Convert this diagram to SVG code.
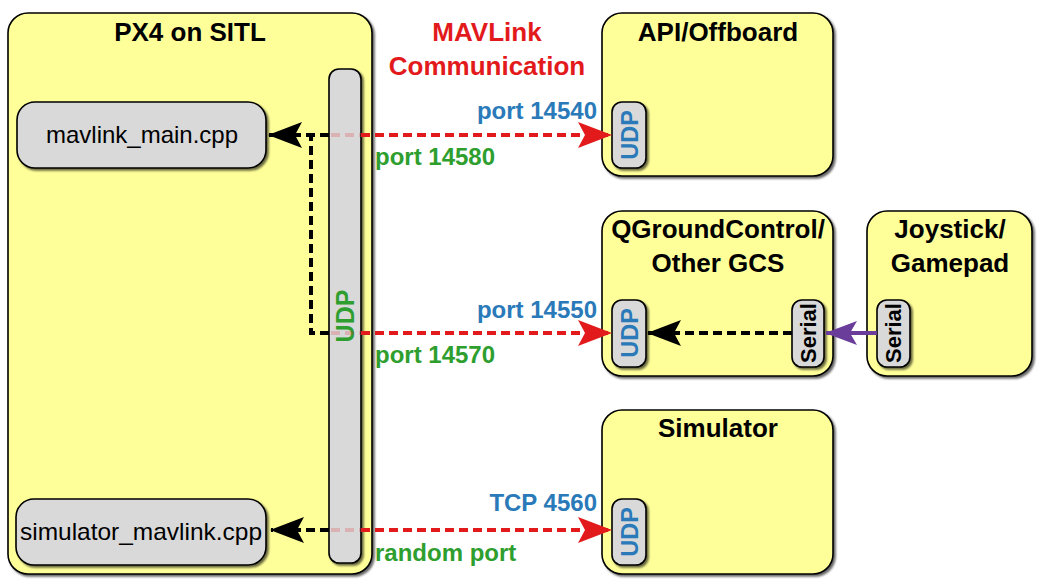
<svg xmlns="http://www.w3.org/2000/svg" width="1049" height="582" viewBox="0 0 1049 582">
<defs>
<style>
.box{fill:#ffff99;stroke:#000;stroke-width:1.6;filter:url(#sh)}
.gray{fill:#d9d9d9;stroke:#000;stroke-width:1.6;filter:url(#sh)}
.t{font-family:"Liberation Sans",Arial,sans-serif;font-weight:bold;text-anchor:middle}
.title{font-size:26px;fill:#000}
.red{fill:#e31a1c}
.lbl{font-family:"Liberation Sans",Arial,sans-serif;font-weight:bold;font-size:24px}
.blue{fill:#2a7ab9}
.green{fill:#2e9e2e}
.norm{font-family:"Liberation Sans",Arial,sans-serif;font-size:24px;text-anchor:middle;fill:#000}
.rd{fill:none;stroke:#e31a1c;stroke-width:4;stroke-dasharray:9 5}
.bk{fill:none;stroke:#000;stroke-width:4;stroke-dasharray:9 5}
</style>
<filter id="sh" x="-10%" y="-10%" width="130%" height="130%">
<feDropShadow dx="2" dy="2" stdDeviation="0.8" flood-color="#000" flood-opacity="0.6"/>
</filter>
<marker id="ar" viewBox="0 0 34 26" refX="33" refY="13" markerWidth="34" markerHeight="26" markerUnits="userSpaceOnUse" orient="auto">
<path d="M0,0 L34,13 L0,26 L7,13 z" fill="#e31a1c"/>
</marker>
<marker id="ab" viewBox="0 0 34 26" refX="33" refY="13" markerWidth="34" markerHeight="26" markerUnits="userSpaceOnUse" orient="auto">
<path d="M0,0 L34,13 L0,26 L7,13 z" fill="#000"/>
</marker>
<marker id="ap" viewBox="0 0 32 24" refX="31" refY="12" markerWidth="32" markerHeight="24" markerUnits="userSpaceOnUse" orient="auto">
<path d="M0,0 L32,12 L0,24 L7,12 z" fill="#6a3d9a"/>
</marker>
</defs>
<rect width="1049" height="582" fill="#fff"/>

<g id="px4">
<rect class="box" x="8" y="13" width="364" height="561" rx="20"/>
<text class="t title" x="190" y="41">PX4 on SITL</text>
</g>
<g id="mavlink_main">
<rect class="gray" x="17" y="102" width="249" height="66" rx="18"/>
<text class="norm" x="142" y="143">mavlink_main.cpp</text>
</g>
<g id="simulator_mavlink">
<rect class="gray" x="16" y="499" width="250" height="66" rx="18"/>
<text class="norm" x="141" y="540" textLength="242" lengthAdjust="spacingAndGlyphs">simulator_mavlink.cpp</text>
</g>
<g id="px4_udp">
<rect class="gray" x="329" y="69" width="32" height="494" rx="10"/>
<text class="t green" style="font-size:25px" transform="translate(345,316) rotate(-90)" x="0" y="9">UDP</text>
</g>

<g id="api">
<rect class="box" x="602" y="13" width="231" height="163" rx="20"/>
<text class="t title" x="718" y="41">API/Offboard</text>
<rect class="gray" x="612" y="102" width="34" height="66" rx="10"/>
<text class="t blue" style="font-size:23.5px" transform="translate(629,135) rotate(-90)" x="0" y="8.5">UDP</text>
</g>
<g id="qgc">
<rect class="box" x="602" y="211" width="231" height="165" rx="20"/>
<text class="t title" x="718" y="238">QGroundControl/</text>
<text class="t title" x="718" y="272">Other GCS</text>
<rect class="gray" x="612" y="300" width="34" height="67" rx="10"/>
<text class="t blue" style="font-size:23.5px" transform="translate(629,333) rotate(-90)" x="0" y="8.5">UDP</text>
<rect class="gray" x="792" y="300" width="32" height="67" rx="10"/>
<text class="t" style="font-size:22px" transform="translate(808,333) rotate(-90)" x="0" y="8">Serial</text>
</g>
<g id="joystick">
<rect class="box" x="867" y="211" width="165" height="165" rx="20"/>
<text class="t title" x="950" y="238">Joystick/</text>
<text class="t title" x="950" y="272">Gamepad</text>
<rect class="gray" x="877" y="300" width="33" height="67" rx="10"/>
<text class="t" style="font-size:22px" transform="translate(893,333) rotate(-90)" x="0" y="8">Serial</text>
</g>
<g id="simulator">
<rect class="box" x="602" y="410" width="231" height="164" rx="20"/>
<text class="t title" x="718" y="437">Simulator</text>
<rect class="gray" x="612" y="499" width="34" height="66" rx="10"/>
<text class="t blue" style="font-size:23.5px" transform="translate(629,532) rotate(-90)" x="0" y="8.5">UDP</text>
</g>

<g id="connectors">
<path class="rd" d="M331,135 H361" stroke-opacity="0.2"/>
<path class="rd" d="M331,333 H361" stroke-opacity="0.2"/>
<path class="rd" d="M331,530 H361" stroke-opacity="0.2"/>
<path class="rd" d="M361,135 H611" marker-end="url(#ar)"/>
<path class="rd" d="M361,333 H611" marker-end="url(#ar)"/>
<path class="rd" d="M361,530 H611" marker-end="url(#ar)"/>
<path class="bk" d="M329,333 H311 V135"/>
<path class="bk" d="M329,135 H269" marker-end="url(#ab)"/>
<path class="bk" d="M329,530 H271" marker-end="url(#ab)"/>
<path class="bk" d="M792,333 H648" marker-end="url(#ab)"/>
<path d="M877,333 H826" fill="none" stroke="#6a3d9a" stroke-width="4" marker-end="url(#ap)"/>
</g>

<g id="labels">
<text class="t title red" x="487" y="41">MAVLink</text>
<text class="t title red" x="487" y="75">Communication</text>
<text class="lbl blue" x="597" y="119" text-anchor="end">port 14540</text>
<text class="lbl green" x="375" y="165">port 14580</text>
<text class="lbl blue" x="597" y="318" text-anchor="end">port 14550</text>
<text class="lbl green" x="375" y="363">port 14570</text>
<text class="lbl blue" x="597" y="511" text-anchor="end">TCP 4560</text>
<text class="lbl green" x="375" y="561">random port</text>
</g>
</svg>
